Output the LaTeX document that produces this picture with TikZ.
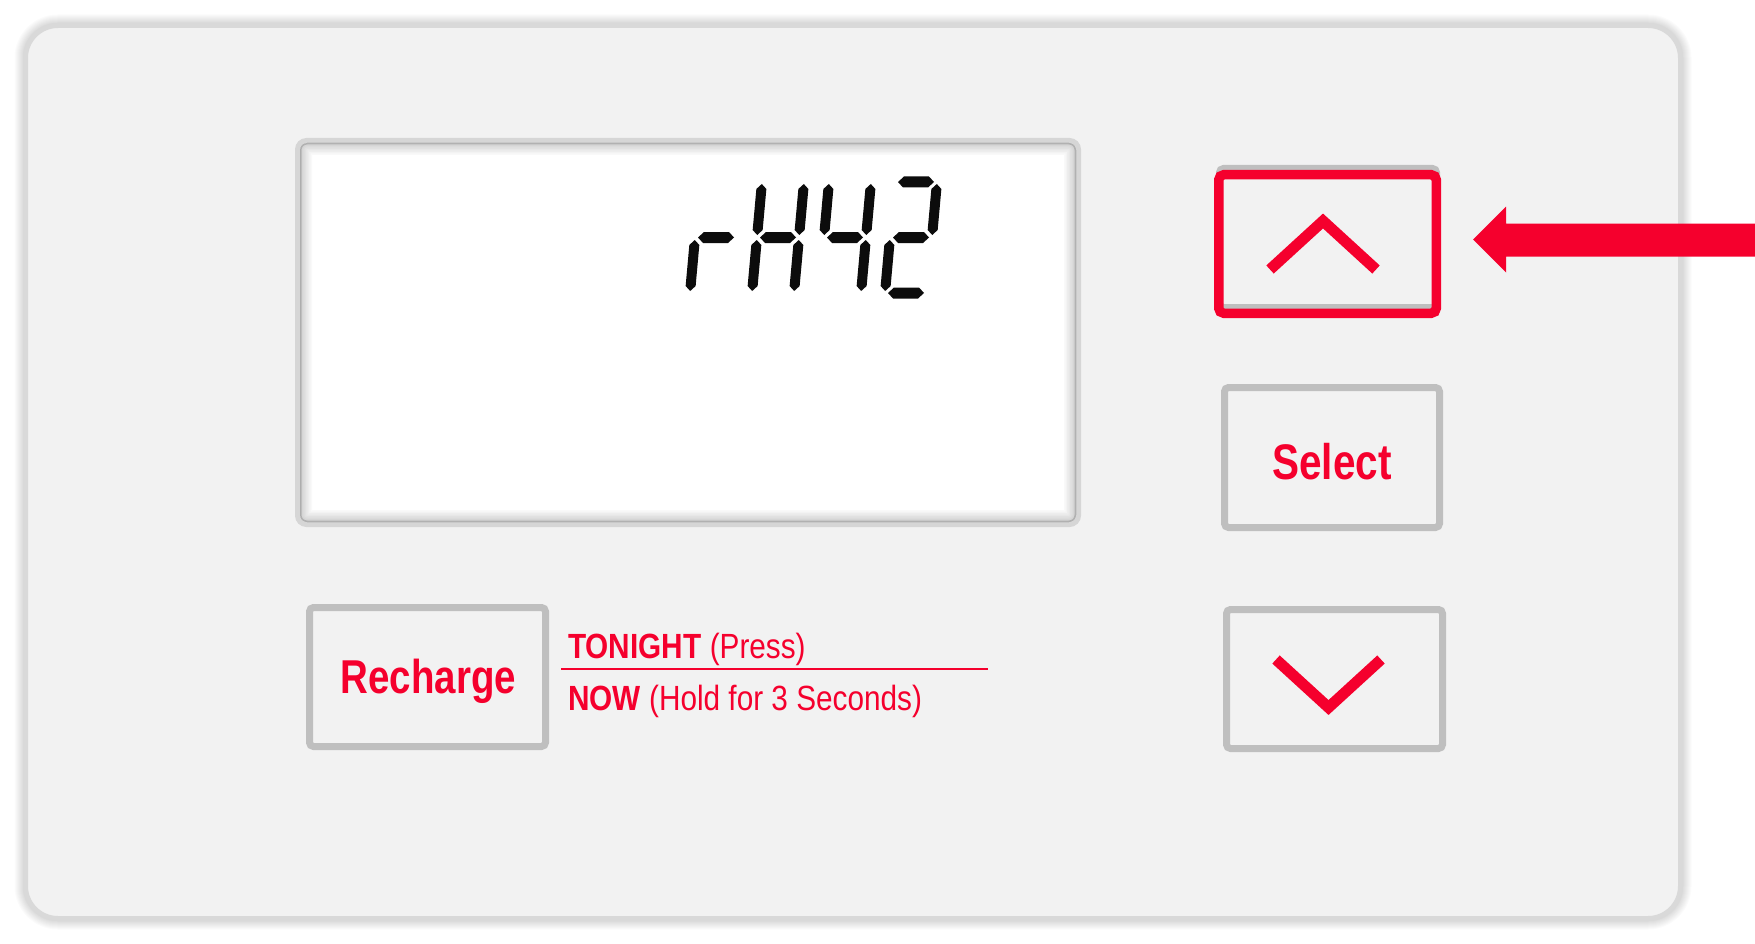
\documentclass[tikz,border=0pt]{standalone}
\usepackage{fontspec}
\newfontfamily\bigsans[FakeStretch=0.81]{Liberation Sans}
\newfontfamily\smallsans[FakeStretch=0.85]{Liberation Sans}
\definecolor{brand}{RGB}{245,0,45}
\definecolor{panelfill}{RGB}{242,242,242}
\definecolor{panelborder}{RGB}{217,217,217}
\definecolor{btnborder}{RGB}{191,191,191}
\definecolor{lcdborder}{RGB}{214,214,214}
\definecolor{lcdink}{RGB}{12,12,12}
% seven-segment pieces (local coords: left vertical u=0, right u=42, bottom v=0, top v=-111)
\newcommand\hsg[3]{\fill[lcdink] (#1,#3) -- (#1+5.5,#3-5.5) -- (#2-5.5,#3-5.5) -- (#2,#3) -- (#2-5.5,#3+5.5) -- (#1+5.5,#3+5.5) -- cycle;}
\newcommand\vsg[3]{\fill[lcdink] (#3,#1) -- (#3+5,#1+5) -- (#3+5,#2-5) -- (#3,#2) -- (#3-5,#2-5) -- (#3-5,#1+5) -- cycle;}
\newcommand\sgA{\hsg{3}{39}{-111}}
\newcommand\sgB{\vsg{-109}{-58}{42}}
\newcommand\sgC{\vsg{-53}{-2}{42}}
\newcommand\sgD{\hsg{3}{39}{0}}
\newcommand\sgE{\vsg{-53}{-2}{0}}
\newcommand\sgF{\vsg{-109}{-58}{0}}
\newcommand\sgG{\hsg{3}{39}{-55.5}}
\tikzset{
  btnbox/.style={draw=btnborder, line width=7pt, rounded corners=4pt, fill=panelfill, inner sep=0pt},
  bigtxt/.style={text=brand, inner sep=0pt, anchor=base, font=\bigsans\bfseries\fontsize{50}{60}\selectfont},
  smalltxt/.style={text=brand, inner sep=0pt, anchor=base west, font=\smallsans\fontsize{35}{42}\selectfont},
  chev/.style={draw=brand, line width=11pt, line join=miter, line cap=butt}
}
\begin{document}
\begin{tikzpicture}[x=1pt, y=-1pt]
\useasboundingbox (0,0) rectangle (1755,944);
\fill[white] (0,0) rectangle (1755,944);
% panel shadow
\foreach \w in {2,4,...,22}
  \draw[black, opacity=0.016, line width=\w pt, rounded corners=32.5pt] (25.5,25.5) rectangle (1680.5,918.5);
% panel
\draw[draw=panelborder, fill=panelfill, line width=5pt, rounded corners=32.5pt] (25.5,25.5) rectangle (1680.5,918.5);
% LCD
\node[draw=lcdborder, fill=white, line width=5pt, rounded corners=9pt, minimum width=781pt, minimum height=384pt, inner sep=0pt] (lcd) at (688,332.5) {};
\begin{scope}
  \clip[rounded corners=7pt] (300,143) rectangle (1076,522);
  \foreach \w in {3,6,...,24}
    \draw[black, opacity=0.024, line width=\w pt, rounded corners=7pt] (300,143) rectangle (1076,522);
  \draw[black, opacity=0.14, line width=3pt, rounded corners=7pt] (300,143) rectangle (1076,522);
\end{scope}
% digits r H 4 2
\begin{scope}[shift={(690,293)}, xslant=0.09] \sgE \sgG \end{scope}
\begin{scope}[shift={(752,293)}, xslant=0.09] \sgB \sgC \sgE \sgF \sgG \end{scope}
\begin{scope}[shift={(819,293)}, xslant=0.09] \sgB \sgC \sgF \sgG \end{scope}
\begin{scope}[shift={(885,293)}, xslant=0.09] \sgA \sgB \sgG \sgE \sgD \end{scope}
% up button (highlighted)
\node[btnbox, minimum width=217pt, minimum height=139pt] (upbtn) at (1328,238) {};
\node[draw=brand, line width=9.5pt, rounded corners=5pt, minimum width=217.5pt, minimum height=138.5pt, inner sep=0pt] (uphl) at (1327.5,244) {};
\draw[chev] (1270,269.5) -- (1323,221) -- (1376,269.5);
% select button
\node[btnbox, minimum width=215pt, minimum height=140pt] (selbtn) at (1332,457.5) {};
\node[bigtxt] (seltxt) at (1332,479) {Select};
% down button
\node[btnbox, minimum width=216pt, minimum height=139pt] (downbtn) at (1334.5,679) {};
\draw[chev] (1276,659.5) -- (1328.5,707.5) -- (1381,659.5);
% recharge button
\node[btnbox, minimum width=236pt, minimum height=139pt] (recbtn) at (427.5,677) {};
\node[bigtxt, font=\bigsans\bfseries\fontsize{47.5}{57}\selectfont] (rectxt) at (428.5,693) {Recharge};
% labels
\node[smalltxt] (tonight) at (568,658) {\bfseries TONIGHT\mdseries{} (Press)};
\draw[brand, line width=1.6pt] (561,669) -- (988,669);
\node[smalltxt] (now) at (568,710) {\bfseries NOW\mdseries{} (Hold for 3 Seconds)};
% arrow
\coordinate (arrowtip) at (1473,239.5);
\coordinate (arrowtail) at (1755,239.5);
\fill[brand] (arrowtip) -- ++(33,-33) -- ++(0,17) -- ++(249,0) -- ++(0,33) -- ++(-249,0) -- ++(0,16) -- cycle;
\end{tikzpicture}
\end{document}
